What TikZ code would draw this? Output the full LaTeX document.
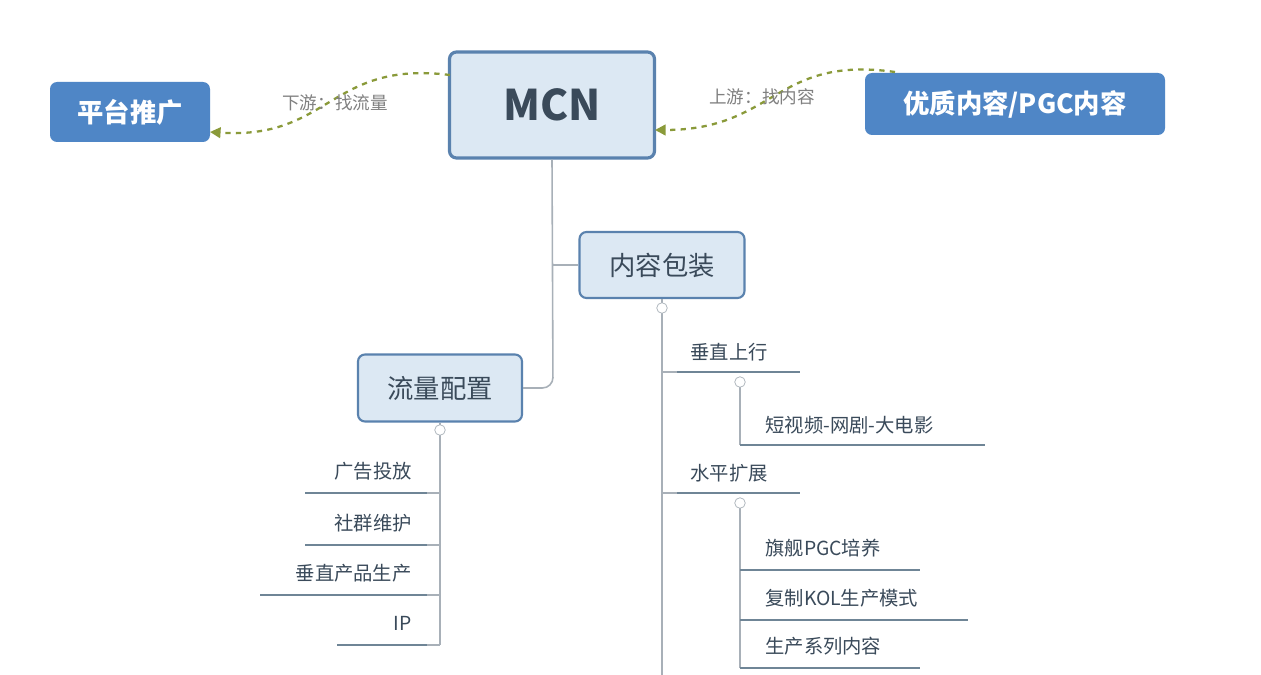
\documentclass[tikz,border=0pt]{standalone}
\usepackage{fontspec}
\setmainfont{Noto Sans CJK SC}
\usetikzlibrary{arrows.meta}
\definecolor{boxfill}{HTML}{DCE8F3}
\definecolor{boxline}{HTML}{5A82AE}
\definecolor{darkfill}{HTML}{4F86C6}
\definecolor{ulcol}{HTML}{6F8596}
\definecolor{txt}{HTML}{3A4A5A}
\definecolor{arrcol}{HTML}{8A9A3A}
\definecolor{linecol}{HTML}{A8B0B8}
\begin{document}
\begin{tikzpicture}[x=0.02cm,y=-0.02cm,
  lightbox/.style={draw=boxline,fill=boxfill,rounded corners=4pt,text=txt,inner sep=0pt,line width=1.2pt},
  darkbox/.style={fill=darkfill,rounded corners=4pt,text=white,inner sep=0pt,font=\bfseries\fontsize{15}{15}\selectfont},
  item/.style={text=txt,font=\fontsize{11}{11}\selectfont,inner sep=0pt},
  ul/.style={draw=ulcol,line width=1.6pt},
  trunk/.style={draw=linecol,line width=0.9pt},
  knob/.style={circle,draw=linecol,fill=white,inner sep=0pt,minimum size=6pt},
  flow/.style={draw=arrcol,dashed,line width=1.3pt,-{Triangle[length=6pt,width=6pt]}},
  flowlab/.style={text=gray,font=\fontsize{10}{10}\selectfont}]
\fill[white] (0,0) rectangle (1261,675);
\useasboundingbox (0,0) rectangle (1261,675);
\node[lightbox,minimum width=205*0.02cm,minimum height=106*0.02cm,font=\bfseries\fontsize{24}{24}\selectfont,line width=1.8pt] (mcn) at (552,105) {MCN};
\node[darkbox,minimum width=160*0.02cm,minimum height=60*0.02cm] (pt) at (130,112) {平台推广};
\node[darkbox,minimum width=300*0.02cm,minimum height=62*0.02cm] (pgc) at (1015,104) {优质内容/PGC内容};
\coordinate (a1) at (450,75); \coordinate (a2) at (210,132);
\coordinate (b1) at (895,72); \coordinate (b2) at (655,130);
\draw[flow] (a1) .. controls (330,60) and (330,140) .. (a2);
\draw[flow] (b1) .. controls (775,55) and (775,130) .. (b2);
\node[flowlab] (l1) at (335,103) {下游：找流量};
\node[flowlab] (l2) at (762,97) {上游：找内容};
\node[lightbox,minimum width=165*0.02cm,minimum height=66*0.02cm,font=\fontsize{15}{15}\selectfont] (nr) at (662,265) {内容包装};
\node[lightbox,minimum width=164*0.02cm,minimum height=67*0.02cm,font=\fontsize{15}{15}\selectfont] (ll) at (440,388) {流量配置};
\draw[trunk,rounded corners=6pt] (mcn.south) -- (553,388) -- (ll.east);
\coordinate (br) at (553,265);
\draw[trunk] (br) -- (nr.west);
% left branch
\coordinate (lb) at (440,645);
\draw[trunk] (ll.south) -- (lb);
\node[knob] (lk) at (440,430) {};
\foreach \t/\y/\x [count=\i] in {广告投放/493/305,社群维护/545/305,垂直产品生产/595/260,IP/645/337}{
  \node[item,anchor=east] (li\i) at (412,\y-22) {\t};
  \coordinate (lu\i) at (\x,\y);
  \coordinate (lv\i) at (440,\y);
  \draw[ul] (lu\i) -- (427,\y);
  \draw[trunk] (427,\y) -- (lv\i);
}
% right branch
\coordinate (rb) at (662,675);
\draw[trunk] (nr.south) -- (rb);
\node[knob] (rk) at (662,308) {};
\foreach \t/\y [count=\i] in {垂直上行/372,水平扩展/493}{
  \node[item,anchor=west] (ri\i) at (690,\y-20) {\t};
  \draw[trunk] (662,\y) -- (677,\y);
  \draw[ul] (677,\y) -- (800,\y);
}
\draw[trunk] (740,382) -- (740,445);
\node[knob] (k1) at (740,382) {};
\node[item,anchor=west] (s1) at (765,425) {短视频-网剧-大电影};
\draw[ul] (740,445) -- (985,445);
\draw[trunk] (740,503) -- (740,668);
\node[knob] (k2) at (740,503) {};
\foreach \t/\y/\e [count=\i] in {旗舰PGC培养/570/920,复制KOL生产模式/620/968,生产系列内容/668/920}{
  \node[item,anchor=west] (h\i) at (765,\y-22) {\t};
  \draw[ul] (740,\y) -- (\e,\y);
}
\end{tikzpicture}
\end{document}
